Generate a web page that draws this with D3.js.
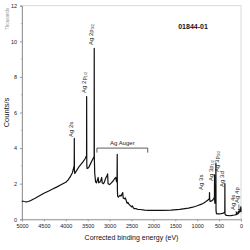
<!DOCTYPE html>
<html>
<head>
<meta charset="utf-8">
<script src="https://cdn.jsdelivr.net/npm/d3@7"></script>
<style>
  body { margin: 0; background: #fff; }
  text { font-family: Arial, "Liberation Sans", sans-serif; }
</style>
</head>
<body>
<script>

// spectrum, binding energy (eV) and counts/s in thousands
const energy = [5000, 4950, 4900, 4850, 4800, 4700, 4600, 4500, 4400, 4300, 4200, 4100, 4000, 3950, 3900, 3850,
    3815, 3808, 3806, 3803, 3795, 3750, 3700, 3650, 3600, 3560, 3530, 3526, 3524, 3521, 3515, 3480, 3440, 3400,
    3370, 3356, 3353, 3351, 3348, 3340, 3320, 3300, 3280, 3260, 3250, 3220, 3200, 3180, 3170, 3140, 3120, 3090,
    3060, 3045, 3035, 3000, 2960, 2920, 2880, 2860, 2840, 2830, 2826, 2822, 2815, 2800, 2780, 2760, 2740, 2720,
    2700, 2690, 2660, 2640, 2620, 2600, 2580, 2560, 2540, 2520, 2500, 2480, 2460, 2440, 2400, 2350, 2300, 2200,
    2100, 2000, 1800, 1600, 1400, 1200, 1100, 1000, 900, 850, 800, 760, 730, 722, 719, 716, 705, 660, 640, 615,
    606, 604, 601, 595, 585, 576, 573, 570, 563, 550, 500, 450, 400, 375, 370, 368, 365, 355, 330, 250, 200, 150,
    110, 98, 95, 92, 70, 60, 58, 56, 40, 20, 8, 4, 1, 0];
const counts = [1.03, 1.0, 0.98, 1.0, 1.06, 1.18, 1.32, 1.46, 1.58, 1.7, 1.82, 1.95, 2.08, 2.2, 2.38, 2.62,
    2.95, 3.05, 4.55, 2.7, 2.58, 2.75, 2.95, 3.1, 3.25, 3.4, 3.55, 3.6, 6.9, 3.1, 2.85, 2.9, 3.1, 3.3,
    3.45, 3.5, 3.6, 9.6, 3.4, 2.6, 2.1, 2.05, 2.2, 2.35, 2.05, 2.1, 2.2, 2.35, 2.05, 2.0, 2.1, 2.3,
    2.45, 2.55, 2.0, 1.95, 2.05, 2.15, 2.3, 2.35, 2.1, 2.3, 3.65, 1.6, 1.3, 1.25, 1.3, 1.35, 1.3, 1.4,
    1.5, 1.2, 1.15, 1.2, 1.05, 0.9, 0.95, 0.85, 0.8, 0.75, 0.7, 0.75, 0.65, 0.6, 0.6, 0.55, 0.55, 0.52,
    0.5, 0.5, 0.5, 0.52, 0.56, 0.63, 0.68, 0.76, 0.85, 0.92, 1.0, 1.07, 1.15, 1.2, 1.5, 1.15, 1.0, 1.05, 1.1, 1.2,
    1.3, 2.5, 1.0, 0.9, 0.95, 1.05, 3.15, 0.5, 0.35, 0.3, 0.3, 0.32, 0.35, 0.4, 0.45, 2.0, 0.3, 0.25, 0.22, 0.2, 0.22, 0.24,
    0.26, 0.28, 0.4, 0.3, 0.3, 0.33, 0.45, 0.35, 0.4, 0.5, 0.6, 0.7, 0.5, 0.4];

const xTicks = [5000, 4500, 4000, 3500, 3000, 2500, 2000, 1500, 1000, 500, 0];
const yTicks = [0, 2, 4, 6, 8, 10, 12];
const yMinor = [1, 3, 5, 7, 9, 11];

// peak labels: text, subscript, anchor energy, anchor value (bottom of the rotated label)
const peakName = ["Ag 2s", "Ag 2p", "Ag 2p", "Ag 3s", "Ag 3p", "Ag 3p", "Ag 3d", "Ag 4s", "Ag 4p"];
const peakSub = ["", "1/2", "3/2", "", "1/2", "3/2", "", "", ""];
const peakLabelE = [3836, 3539, 3368, 868, 639, 502, 377, 126, 57];
const peakLabelV = [4.62, 7.1, 9.79, 1.65, 2.15, 2.66, 1.82, 0.52, 0.92];
// arrows under the small 4s / 4p labels: [fromE, fromV, toE, toV]
const arrows = [[120, 0.45, 92, 0.28], [50, 0.84, 42, 0.48]];

const augerRange = [3290, 2130];
const augerLevel = 4.0;

const width = 250, height = 250;

const svg = d3.select("body")
    .append("svg")
    .attr("width", width)
    .attr("height", height);

const x = d3.scaleLinear().domain([5000, 0]).range([22, 241]);
const y = d3.scaleLinear().domain([0, 12]).range([219.3, 5.7]);

// frame
svg.append("rect")
    .attr("x", x(5000)).attr("y", y(12))
    .attr("width", x(0) - x(5000)).attr("height", y(0) - y(12))
    .attr("fill", "none").attr("stroke", "#d0d0d0").attr("stroke-width", 0.8);

const xAxis = svg.append("g")
    .attr("transform", `translate(0,${y(0)})`)
    .call(d3.axisBottom(x).tickValues(xTicks).tickFormat(d3.format("d")).tickSize(2).tickPadding(3));
xAxis.select(".domain").attr("stroke", "#999");
xAxis.selectAll(".tick line").attr("stroke", "#999");
xAxis.selectAll("text").attr("font-size", 5.5).attr("fill", "#222").attr("font-family", "Arial, sans-serif");

const yAxis = svg.append("g")
    .attr("transform", `translate(${x(5000)},0)`)
    .call(d3.axisLeft(y).tickValues(yTicks).tickSize(2).tickPadding(3));
yAxis.select(".domain").attr("stroke", "#999");
yAxis.selectAll(".tick line").attr("stroke", "#999");
yAxis.selectAll("text").attr("font-size", 5.5).attr("fill", "#222").attr("font-family", "Arial, sans-serif");

svg.append("g").selectAll("line")
    .data(yMinor)
    .enter().append("line")
    .attr("x1", x(5000) - 1.2).attr("x2", x(5000))
    .attr("y1", d => y(d)).attr("y2", d => y(d))
    .attr("stroke", "#999").attr("stroke-width", 0.6);

// spectrum
const line = d3.line()
    .x(function (d, i) { return x(energy[i]); })
    .y(function (d, i) { return y(counts[i]); });

svg.append("path")
    .attr("fill", "none")
    .attr("stroke", "#111")
    .attr("stroke-width", 1.2)
    .attr("stroke-linejoin", "round")
    .attr("d", line(counts));

// peak labels
const labels = svg.append("g");
peakName.forEach(function (name, i) {
    const t = labels.append("text")
        .attr("transform", `translate(${x(peakLabelE[i])},${y(peakLabelV[i])}) rotate(-90)`)
        .attr("font-size", 6)
        .attr("fill", "#222")
        .text(name);
    if (peakSub[i]) {
        t.append("tspan")
            .attr("font-size", 3.8)
            .attr("dy", 1)
            .text(peakSub[i]);
    }
});

svg.append("defs").append("marker")
    .attr("id", "head")
    .attr("viewBox", "0 0 10 10")
    .attr("refX", 9).attr("refY", 5)
    .attr("markerWidth", 4).attr("markerHeight", 4)
    .attr("orient", "auto")
    .append("path")
    .attr("d", "M0,0L10,5L0,10Z")
    .attr("fill", "#111");

svg.append("g").selectAll("line")
    .data(arrows)
    .enter().append("line")
    .attr("x1", d => x(d[0])).attr("y1", d => y(d[1]))
    .attr("x2", d => x(d[2])).attr("y2", d => y(d[3]))
    .attr("stroke", "#111").attr("stroke-width", 0.6)
    .attr("marker-end", "url(#head)");

// Ag Auger bracket
const ax0 = x(augerRange[0]), ax1 = x(augerRange[1]), ay = y(augerLevel);
svg.append("path")
    .attr("fill", "none")
    .attr("stroke", "#333")
    .attr("stroke-width", 0.8)
    .attr("d", `M${ax0},${ay + 4.5}V${ay}H${ax1}V${ay + 4.5}`);
svg.append("text")
    .attr("x", (ax0 + ax1) / 2)
    .attr("y", ay - 3.5)
    .attr("text-anchor", "middle")
    .attr("font-size", 6)
    .attr("fill", "#222")
    .text("Ag Auger");

// titles
svg.append("text")
    .attr("x", (x(5000) + x(0)) / 2)
    .attr("y", 240)
    .attr("text-anchor", "middle")
    .attr("font-size", 7)
    .attr("fill", "#111")
    .text("Corrected binding energy (eV)");

svg.append("text")
    .attr("transform", `translate(8.5,${(y(0) + y(12)) / 2}) rotate(-90)`)
    .attr("text-anchor", "middle")
    .attr("font-size", 7.5)
    .attr("fill", "#111")
    .text("Counts/s");

svg.append("text")
    .attr("transform", `translate(9,${y(12) + 2}) rotate(-90)`)
    .attr("text-anchor", "end")
    .attr("font-size", 4.5)
    .attr("fill", "#999")
    .text("Thousands");

svg.append("text")
    .attr("x", 193)
    .attr("y", 29)
    .attr("text-anchor", "middle")
    .attr("font-size", 7)
    .attr("font-weight", "bold")
    .attr("fill", "#111")
    .text("01844-01");

</script>
</body>
</html>
